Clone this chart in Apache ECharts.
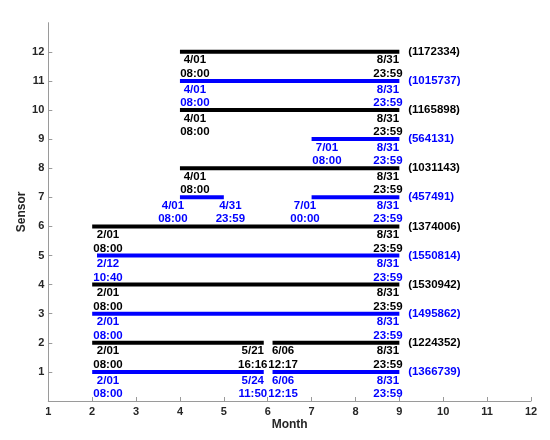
<!DOCTYPE html>
<html>
<head>
<meta charset="utf-8">
<script src="https://cdn.jsdelivr.net/npm/echarts@6/dist/echarts.min.js"></script>
<style>html,body{margin:0;padding:0;background:#fff}#c{width:550px;height:440px}</style>
</head>
<body>
<div id="c"></div>
<script>
// ---- data ----
const xTicks = [1,2,3,4,5,6,7,8,9,10,11,12];
const yTicks = [1,2,3,4,5,6,7,8,9,10,11,12];
const sensorIds = [12,11,10,9,8,7,6,5,4,3,2,1];
const sensorCounts = ['(1172334)','(1015737)','(1165898)','(564131)','(1031143)','(457491)','(1374006)','(1550814)','(1530942)','(1495862)','(1224352)','(1366739)'];

const segSensor = [12,11,10,9,8,7,7,6,5,4,3,2,2,1,1];
const segStart  = [4,4,4,7,4,4,7,2,2.11,2,2,2,6.11,2,6.11];
const segEnd    = [9,9,9,9,9,5,9,9,9,9,9,5.91,9,5.91,9];
const startDate = ['4/01','4/01','4/01','7/01','4/01','4/01','7/01','2/01','2/12','2/01','2/01','2/01','6/06','2/01','6/06'];
const startTime = ['08:00','08:00','08:00','08:00','08:00','08:00','00:00','08:00','10:40','08:00','08:00','08:00','12:17','08:00','12:15'];
const endDate   = ['8/31','8/31','8/31','8/31','8/31','4/31','8/31','8/31','8/31','8/31','8/31','5/21','8/31','5/24','8/31'];
const endTime   = ['23:59','23:59','23:59','23:59','23:59','23:59','23:59','23:59','23:59','23:59','23:59','16:16','23:59','11:50','23:59'];
const startLabelAt = [4.34,4.34,4.34,7.35,4.34,3.84,6.85,2.36,2.36,2.36,2.36,2.36,6.35,2.36,6.35];
const endLabelAt   = [8.74,8.74,8.74,8.74,8.74,5.15,8.74,8.74,8.74,8.74,8.74,5.66,8.74,5.66,8.74];
const countLabelAt = 9.2;

// ---- style ----
const BLACK = '#000000', BLUE = '#0000ff';
const FONT = 'Liberation Sans, Arial, sans-serif';
const colorOf = s => (s % 2 === 0 ? BLACK : BLUE);

function txt(text, x, y, color, align) {
  return {type:'text', style:{text:text, x:x, y:y, align:align||'center', verticalAlign:'middle',
    fill:color, fontSize:11.5, fontWeight:'bold', fontFamily:FONT}};
}

function renderSeg(params, api) {
  const i = params.dataIndex;
  const y = segSensor[i];
  const c = colorOf(y);
  const s = api.coord([segStart[i], y]);
  const e = api.coord([segEnd[i], y]);
  const sl = api.coord([startLabelAt[i], y]);
  const el = api.coord([endLabelAt[i], y]);
  return {type:'group', children:[
    {type:'line', shape:{x1:s[0], y1:s[1], x2:e[0], y2:e[1]}, style:{stroke:c, lineWidth:4}},
    txt(startDate[i], sl[0], sl[1] + 8.5, c),
    txt(startTime[i], sl[0], sl[1] + 22, c),
    txt(endDate[i], el[0], el[1] + 8.5, c),
    txt(endTime[i], el[0], el[1] + 22, c)
  ]};
}

function renderCount(params, api) {
  const i = params.dataIndex;
  const y = sensorIds[i];
  const p = api.coord([countLabelAt, y]);
  return txt(sensorCounts[i], p[0], p[1], colorOf(y), 'left');
}

const axisGray = '#9a9a9a';
const labelColor = '#262626';

const chart = echarts.init(document.getElementById('c'));
chart.setOption({
  animation: false,
  grid: {left: 48.3, right: 19, top: 22.7, bottom: 39},
  xAxis: {
    type:'value', min:1, max:12, interval:1,
    name:'Month', nameLocation:'middle', nameGap:18, nameMoveOverlap:false,
    nameTextStyle:{color:labelColor, fontSize:12, fontWeight:'bold', fontFamily:FONT},
    axisLine:{show:true, lineStyle:{color:axisGray, width:1}},
    axisTick:{show:true, inside:true, length:4, lineStyle:{color:axisGray}, customValues:xTicks},
    axisLabel:{color:labelColor, fontSize:11, fontWeight:'bold', fontFamily:FONT, margin:5, customValues:xTicks},
    splitLine:{show:false}
  },
  yAxis: {
    type:'value', min:0, max:13, interval:1,
    name:'Sensor', nameLocation:'middle', nameGap:21, nameMoveOverlap:false,
    nameTextStyle:{color:labelColor, fontSize:12, fontWeight:'bold', fontFamily:FONT},
    axisLine:{show:true, lineStyle:{color:axisGray, width:1}},
    axisTick:{show:true, inside:true, length:4, lineStyle:{color:axisGray}, customValues:yTicks},
    axisLabel:{color:labelColor, fontSize:11, fontWeight:'bold', fontFamily:FONT, margin:4, customValues:yTicks},
    splitLine:{show:false}
  },
  series: [
    {type:'custom', renderItem:renderSeg, clip:false,
     data: segSensor.map((s,i)=>[segStart[i], segEnd[i], s]), encode:{x:[0,1], y:2}},
    {type:'custom', renderItem:renderCount, clip:false,
     data: sensorIds.map(s=>[countLabelAt, s]), encode:{x:0, y:1}}
  ]
});
</script>
</body>
</html>
